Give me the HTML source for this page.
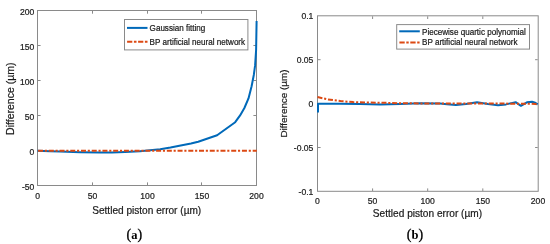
<!DOCTYPE html>
<html><head><meta charset="utf-8"><title>Figure</title>
<style>
html,body{margin:0;padding:0;background:#fff;}
body{width:550px;height:244px;overflow:hidden;}
svg{display:block;}
text{font-family:"Liberation Sans",Arial,Helvetica,sans-serif;fill:#1a1a1a;stroke:#1a1a1a;stroke-width:0.2px;}
.tk{font-size:8.6px;}
.lg{font-size:8.1px;}
.lb{font-size:10.0px;}
.cap{font-family:"Liberation Serif","Times New Roman",serif;font-weight:bold;font-size:12.5px;fill:#000;stroke:none;}
.pr{font-weight:normal;font-size:14px;stroke:#000;stroke-width:0.3px;}
</style></head>
<body>
<svg width="550" height="244" viewBox="0 0 550 244">
<rect width="550" height="244" fill="#fff"/>
<g id="left">
<rect x="37.5" y="10.5" width="219" height="175" fill="none" stroke="#8a8a8a" stroke-width="1"/>
<path d="M92.5 185v-2.6M147.5 185v-2.6M201.5 185v-2.6M92.5 11v2.7M147.5 11v2.7M201.5 11v2.7" stroke="#8a8a8a" stroke-width="1"/>
<path d="M38 150.5h2.6M38 115.5h2.6M38 80.5h2.6M38 45.5h2.6M256 150.5h-2.6M256 115.5h-2.6M256 80.5h-2.6M256 45.5h-2.6" stroke="#8a8a8a" stroke-width="1"/>
<polyline fill="none" stroke="#0069B9" stroke-width="2" stroke-linejoin="round" points="37.5,150.8 50,151.2 60,151.6 80,152.2 100,152.5 112,152.6 125,152.0 140,151.2 150,150.2 160.2,149.3 170.5,147.6 180.7,145.6 191,143.5 198.2,141.8 217.1,135.3 235.2,122.2 240.1,115.4 244.4,108.0 248.5,98.4 251.6,86.2 253.8,75.0 255.1,65.4 256.1,50 256.6,21"/>
<line x1="38.07" y1="150.85" x2="256.8" y2="150.85" stroke="#DC4913" stroke-width="2" stroke-dasharray="5 1.8 2.1 1.83"/>
<text class="tk" transform="translate(34.3 15.25) scale(1 1.15)" text-anchor="end">200</text>
<text class="tk" transform="translate(34.3 50.25) scale(1 1.15)" text-anchor="end">150</text>
<text class="tk" transform="translate(34.3 85.25) scale(1 1.15)" text-anchor="end">100</text>
<text class="tk" transform="translate(34.3 120.25) scale(1 1.15)" text-anchor="end">50</text>
<text class="tk" transform="translate(34.3 155.25) scale(1 1.15)" text-anchor="end">0</text>
<text class="tk" transform="translate(34.3 190.25) scale(1 1.15)" text-anchor="end">-50</text>
<text class="tk" transform="translate(37.7 199.3)" text-anchor="middle">0</text>
<text class="tk" transform="translate(92.5 199.3)" text-anchor="middle">50</text>
<text class="tk" transform="translate(147.5 199.3)" text-anchor="middle">100</text>
<text class="tk" transform="translate(202 199.3)" text-anchor="middle">150</text>
<text class="tk" transform="translate(256.5 199.3)" text-anchor="middle">200</text>
<text class="lb" transform="translate(146.7 213.8)" text-anchor="middle" style="font-size:10.1px">Settled piston error (µm)</text>
<text class="lb" transform="translate(13.6 98.7) rotate(-90)" text-anchor="middle" style="font-size:10.5px">Difference (µm)</text>
<rect x="124.5" y="19.5" width="123.4" height="30.4" fill="#fff" stroke="#8a8a8a" stroke-width="1"/>
<line x1="127" y1="27.9" x2="147.5" y2="27.9" stroke="#0069B9" stroke-width="2"/>
<line x1="127.1" y1="41.8" x2="147.5" y2="41.8" stroke="#DC4913" stroke-width="2" stroke-dasharray="5.2 1.6 2.6 1.6"/>
<text class="lg" transform="translate(149.6 31.3) scale(1 1.12)">Gaussian fitting</text>
<text class="lg" transform="translate(149.6 45.2) scale(1 1.12)">BP artificial neural network</text>
<text class="cap" x="126.6" y="238.6"><tspan class="pr">(</tspan>a<tspan class="pr">)</tspan></text>
</g>
<g id="right">
<rect x="317.5" y="15.8" width="220.7" height="175.5" fill="none" stroke="#8a8a8a" stroke-width="1"/>
<path d="M372.6 191v-2.6M427.7 191v-2.6M482.8 191v-2.6M372.6 16.3v2.7M427.7 16.3v2.7M482.8 16.3v2.7" stroke="#8a8a8a" stroke-width="1"/>
<path d="M318 59.7h2.6M318 103.6h2.6M318 147.5h2.6M537.7 59.7h-2.6M537.7 103.6h-2.6M537.7 147.5h-2.6" stroke="#8a8a8a" stroke-width="1"/>
<polyline fill="none" stroke="#0069B9" stroke-width="2" stroke-linejoin="round" points="318,112.4 318,103.7 330,103.7 340,103.7 360,104.0 380,104.5 400,103.9 420,103.3 440,103.6 447,104.2 456,105.0 466,104.0 477,102.3 488,104.0 498,105.2 506,104.4 515.6,102.2 520.9,105.8 526.9,102.3 532,101.8 535.3,102.8 537.7,104.4"/>
<polyline fill="none" stroke="#DC4913" stroke-width="2" stroke-dasharray="5 1.8 2.1 1.83" points="317.5,97.1 327.7,99.4 340.5,101.1 353.2,102.1 365.9,102.5 383.7,102.8 400,103.2 420,103.4 500,103.6 530,103.7 535.5,104.0 538,104.4"/>
<text class="tk" transform="translate(313.4 19.4)" text-anchor="end">0.1</text>
<text class="tk" transform="translate(313.4 63.3)" text-anchor="end">0.05</text>
<text class="tk" transform="translate(313.4 107.2)" text-anchor="end">0</text>
<text class="tk" transform="translate(313.4 151.1)" text-anchor="end">-0.05</text>
<text class="tk" transform="translate(313.4 195.0)" text-anchor="end">-0.1</text>
<text class="tk" transform="translate(317.5 204.2)" text-anchor="middle">0</text>
<text class="tk" transform="translate(372.6 204.2)" text-anchor="middle">50</text>
<text class="tk" transform="translate(427.7 204.2)" text-anchor="middle">100</text>
<text class="tk" transform="translate(482.8 204.2)" text-anchor="middle">150</text>
<text class="tk" transform="translate(538 204.2)" text-anchor="middle">200</text>
<text class="lb" transform="translate(427.45 217.3)" text-anchor="middle" style="font-size:10.12px">Settled piston error (µm)</text>
<text class="lb" transform="translate(287.2 103.5) rotate(-90)" text-anchor="middle" style="font-size:9.9px">Difference (µm)</text>
<rect x="396.7" y="24.6" width="132.8" height="24.5" fill="#fff" stroke="#8a8a8a" stroke-width="1"/>
<line x1="399.2" y1="31.3" x2="419.8" y2="31.3" stroke="#0069B9" stroke-width="2"/>
<line x1="399.4" y1="42.4" x2="419.8" y2="42.4" stroke="#DC4913" stroke-width="2" stroke-dasharray="5.3 1.6 2.4 1.6"/>
<text class="lg" transform="translate(422 34.8) scale(1 1.04)">Piecewise quartic polynomial</text>
<text class="lg" transform="translate(422 45.3) scale(1 1.04)">BP artificial neural network</text>
<text class="cap" x="406.8" y="239.0"><tspan class="pr">(</tspan>b<tspan class="pr">)</tspan></text>
</g>
</svg>
</body></html>
